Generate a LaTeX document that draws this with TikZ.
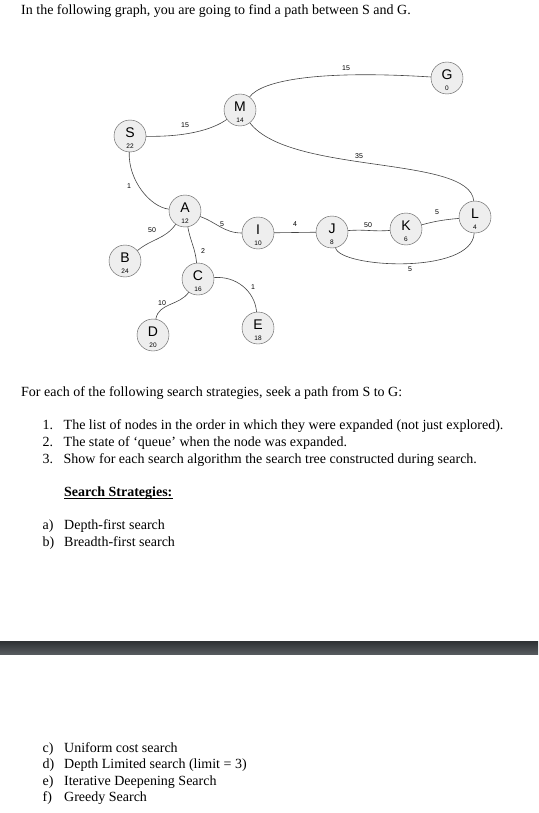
\documentclass[tikz,border=0pt]{standalone}
\usepackage{fontspec}
\setmainfont{Liberation Serif}
\setsansfont{Liberation Sans}
\definecolor{nodefill}{HTML}{EEEEEE}
\definecolor{nodeline}{HTML}{555555}
\definecolor{edgeline}{HTML}{444444}
\definecolor{bartop}{HTML}{2E3134}
\definecolor{barbot}{HTML}{565A5E}
\newcommand{\hval}[1]{{\fontsize{6.5}{7}\selectfont #1}}

\begin{document}
\begin{tikzpicture}[x=1pt, y=1pt,
    city/.style={circle, draw=nodeline, fill=nodefill, minimum size=32pt, inner sep=0pt,
      align=center, font=\sffamily\fontsize{14}{14}\selectfont},
    road/.style={draw=edgeline, line width=0.6pt},
    cost/.style={font=\sffamily\fontsize{7}{8}\selectfont, inner sep=0pt},
    txt/.style={anchor=base west, inner sep=0pt, font=\fontsize{14}{16}\selectfont}]
    \useasboundingbox (0,0) rectangle (538,-813);

    % Question
    \node[txt] (intro) at (21,-15) {In the following graph, you are going to find a path between S and G.};

    % Graph nodes
    \node[city] (S) at (130,-136) {\rule{0pt}{14pt}S\\[-3pt]\hval{22}};
    \node[city] (M) at (240,-110) {\rule{0pt}{14pt}M\\[-3pt]\hval{14}};
    \node[city] (G) at (447,-78) {\rule{0pt}{14pt}G\\[-3pt]\hval{0}};
    \node[city] (A) at (185,-211) {\rule{0pt}{14pt}A\\[-3pt]\hval{12}};
    \node[city] (B) at (125,-261) {\rule{0pt}{14pt}B\\[-3pt]\hval{24}};
    \node[city] (I) at (258,-233) {\rule{0pt}{14pt}I\\[-3pt]\hval{10}};
    \node[city] (C) at (198,-279) {\rule{0pt}{14pt}C\\[-3pt]\hval{16}};
    \node[city] (D) at (153,-335) {\rule{0pt}{14pt}D\\[-3pt]\hval{20}};
    \node[city] (E) at (258,-328) {\rule{0pt}{14pt}E\\[-3pt]\hval{18}};
    \node[city] (J) at (332,-232) {\rule{0pt}{14pt}J\\[-3pt]\hval{8}};
    \node[city] (K) at (406,-229) {\rule{0pt}{14pt}K\\[-3pt]\hval{6}};
    \node[city] (L) at (475,-217) {\rule{0pt}{14pt}L\\[-3pt]\hval{4}};

    % Roads
    \draw[road] (S) .. controls (185,-137) and (212,-130) .. (M);
    \draw[road] (S) .. controls (128,-180) and (150,-207) .. (A);
    \draw[road] (M) .. controls (262,-80) and (320,-70) .. (G);
    \draw[road] (M) .. controls (290,-175) and (470,-155) .. (L);
    \draw[road] (A) to[out=235,in=40] (B);
    \draw[road] (A) to[out=-20,in=180] (I);
    \draw[road] (A) to[out=-80,in=95] (C);
    \draw[road] (C) to[out=235,in=80] (D);
    \draw[road] (C) to[out=5,in=95] (E);
    \draw[road] (I) -- (J);
    \draw[road] (J) to[out=5,in=185] (K);
    \draw[road] (K) to[out=15,in=185] (L);
    \draw[road] (J) .. controls (340,-268) and (472,-275) .. (L);

    % Costs
    \node[cost] (cSM) at (185,-125) {15};
    \node[cost] (cSA) at (129,-186) {1};
    \node[cost] (cMG) at (346,-68) {15};
    \node[cost] (cML) at (359,-156) {35};
    \node[cost] (cAB) at (152,-230) {50};
    \node[cost] (cAI) at (222,-224) {5};
    \node[cost] (cAC) at (203,-251) {2};
    \node[cost] (cCD) at (162,-303) {10};
    \node[cost] (cCE) at (253,-287) {1};
    \node[cost] (cIJ) at (295,-224) {4};
    \node[cost] (cJK) at (368,-225) {50};
    \node[cost] (cKL) at (437,-212) {5};
    \node[cost] (cJL) at (410,-269) {5};

    % Tasks
    \node[txt] (task) at (21,-396) {For each of the following search strategies, seek a path from S to G:};
    \node[txt] (item1) at (42.5,-429) {\makebox[21pt][l]{1.}The list of nodes in the order in which they were expanded (not just explored).};
    \node[txt] (item2) at (42.5,-446) {\makebox[21pt][l]{2.}The state of `queue' when the node was expanded.};
    \node[txt] (item3) at (42.5,-463) {\makebox[21pt][l]{3.}Show for each search algorithm the search tree constructed during search.};
    \node[txt, font=\bfseries\fontsize{14}{16}\selectfont] (hdr) at (64,-496) {Search Strategies:};
    \draw[line width=1.4pt] ([yshift=-2.4pt]hdr.base west) -- ([yshift=-2.4pt]hdr.base east);
    \node[txt] (sa) at (42.5,-529) {\makebox[21.5pt][l]{a)}Depth-first search};
    \node[txt] (sb) at (42.5,-546) {\makebox[21.5pt][l]{b)}Breadth-first search};

    % Page break bar
    \shade[top color=bartop, bottom color=barbot] (0,-641) rectangle (538,-654);

    \node[txt] (sc) at (42.5,-752) {\makebox[21.5pt][l]{c)}Uniform cost search};
    \node[txt] (sd) at (42.5,-768.5) {\makebox[21.5pt][l]{d)}Depth Limited search (limit = 3)};
    \node[txt] (se) at (42.5,-785) {\makebox[21.5pt][l]{e)}Iterative Deepening Search};
    \node[txt] (sf) at (42.5,-801.5) {\makebox[21.5pt][l]{f)}Greedy Search};
\end{tikzpicture}
\end{document}
